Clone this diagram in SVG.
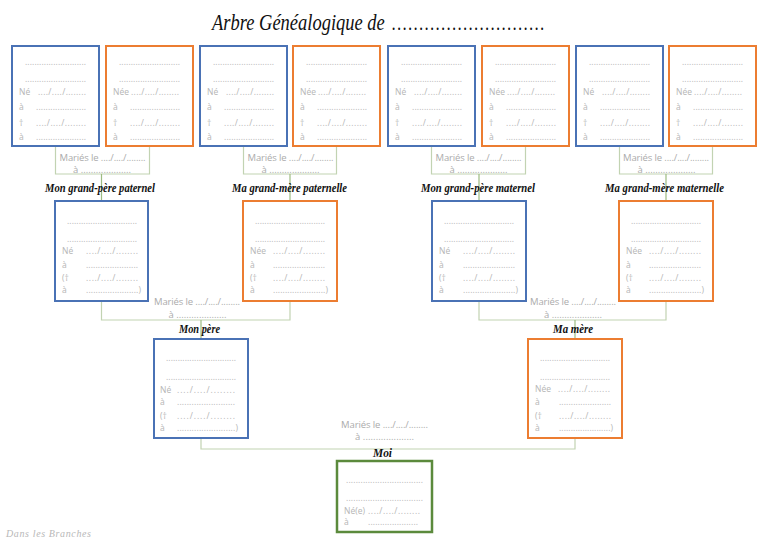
<svg xmlns="http://www.w3.org/2000/svg" width="768" height="544" viewBox="0 0 768 544">
<style>
.bx{fill:#fff;stroke-width:2}
.bl{stroke:#4a72b5}
.or{stroke:#ec7d31}
.gr{stroke:#5b8a3c;stroke-width:2.5}
.t{font-family:"Open Sans","Liberation Sans",sans-serif;font-size:8.5px;fill:#b5b5b5}
.m{font-family:"Open Sans","Liberation Sans",sans-serif;font-size:9.5px;fill:#ababab}
.c{font-family:"Liberation Serif",serif;font-style:italic;font-weight:bold;font-size:12px;fill:#111}
.k{fill:none;stroke:#c2d3b2;stroke-width:1.2}
.kd{fill:none;stroke:#9dbc82;stroke-width:1.2}
</style>
<rect width="768" height="544" fill="#fff"/>
<g id="title">
<text transform="translate(212,30) scale(1,1.3)" x="0" y="0" style="font-family:'Liberation Serif',serif;font-style:italic;font-size:18.5px;fill:#111">Arbre Généalogique de<tspan x="180" style="font-size:16px;letter-spacing:1.5px">............................</tspan></text>
</g>
<g id="connectors">
<path class="k" d="M55.5 146V174H149.5V146M243.5 146V174H336.5V146M431.5 146V174H525.5V146M619.5 146V174H712.5V146"/>
<path class="kd" d="M101.5 174V201M290 174V201M479 174V201M666 174V201"/>
<path class="k" d="M101.5 301V320H290V301M479 301V320H666V301"/>
<path class="kd" d="M201 320V339M575 320V339"/>
<path class="k" d="M201 438V449H575V438"/>
</g>
<g id="mariages" class="m">
<text x="59.5" y="161" textLength="86">Mariés le ..../..../........</text>
<text x="73" y="173" textLength="58">à  ....................</text>
<text x="247.5" y="161" textLength="86">Mariés le ..../..../........</text>
<text x="261.5" y="173" textLength="58">à  ....................</text>
<text x="435.5" y="161" textLength="86">Mariés le ..../..../........</text>
<text x="449.5" y="173" textLength="58">à  ....................</text>
<text x="623" y="161" textLength="86">Mariés le ..../..../........</text>
<text x="637.5" y="173" textLength="58">à  ....................</text>
<text x="154" y="305" textLength="86">Mariés le ..../..../........</text>
<text x="168.5" y="318" textLength="58">à  ....................</text>
<text x="530" y="305" textLength="86">Mariés le ..../..../........</text>
<text x="544" y="318" textLength="58">à  ....................</text>
<text x="341" y="428" textLength="87">Mariés le ..../..../........</text>
<text x="355" y="440" textLength="59">à  ....................</text>
</g>
<g id="arriere1" transform="translate(12,46)"><rect class="bx bl" width="87" height="100"/>
<text class="t" x="13" y="19" textLength="61">..........................</text><text class="t" x="13" y="36" textLength="61">..........................</text>
<text class="t" x="7" y="49">Né</text><text class="t" x="26" y="49" textLength="48">..../..../........</text>
<text class="t" x="7" y="64">à</text><text class="t" x="24" y="64" textLength="50">.....................</text>
<text class="t" x="7" y="80">†</text><text class="t" x="24" y="80" textLength="50">..../..../........</text>
<text class="t" x="7" y="94">à</text><text class="t" x="24" y="94" textLength="50">.....................</text></g>
<g id="arriere2" transform="translate(106,46)"><rect class="bx or" width="87" height="100"/>
<text class="t" x="13" y="19" textLength="61">..........................</text><text class="t" x="13" y="36" textLength="61">..........................</text>
<text class="t" x="7" y="49">Née</text><text class="t" x="25" y="49" textLength="48">..../..../........</text>
<text class="t" x="7" y="64">à</text><text class="t" x="24" y="64" textLength="50">.....................</text>
<text class="t" x="7" y="80">†</text><text class="t" x="24" y="80" textLength="50">..../..../........</text>
<text class="t" x="7" y="94">à</text><text class="t" x="24" y="94" textLength="50">.....................</text></g>
<g id="arriere3" transform="translate(200,46)"><rect class="bx bl" width="87" height="100"/>
<text class="t" x="13" y="19" textLength="61">..........................</text><text class="t" x="13" y="36" textLength="61">..........................</text>
<text class="t" x="7" y="49">Né</text><text class="t" x="26" y="49" textLength="48">..../..../........</text>
<text class="t" x="7" y="64">à</text><text class="t" x="24" y="64" textLength="50">.....................</text>
<text class="t" x="7" y="80">†</text><text class="t" x="24" y="80" textLength="50">..../..../........</text>
<text class="t" x="7" y="94">à</text><text class="t" x="24" y="94" textLength="50">.....................</text></g>
<g id="arriere4" transform="translate(293,46)"><rect class="bx or" width="87" height="100"/>
<text class="t" x="13" y="19" textLength="61">..........................</text><text class="t" x="13" y="36" textLength="61">..........................</text>
<text class="t" x="7" y="49">Née</text><text class="t" x="25" y="49" textLength="48">..../..../........</text>
<text class="t" x="7" y="64">à</text><text class="t" x="24" y="64" textLength="50">.....................</text>
<text class="t" x="7" y="80">†</text><text class="t" x="24" y="80" textLength="50">..../..../........</text>
<text class="t" x="7" y="94">à</text><text class="t" x="24" y="94" textLength="50">.....................</text></g>
<g id="arriere5" transform="translate(388,46)"><rect class="bx bl" width="87" height="100"/>
<text class="t" x="13" y="19" textLength="61">..........................</text><text class="t" x="13" y="36" textLength="61">..........................</text>
<text class="t" x="7" y="49">Né</text><text class="t" x="26" y="49" textLength="48">..../..../........</text>
<text class="t" x="7" y="64">à</text><text class="t" x="24" y="64" textLength="50">.....................</text>
<text class="t" x="7" y="80">†</text><text class="t" x="24" y="80" textLength="50">..../..../........</text>
<text class="t" x="7" y="94">à</text><text class="t" x="24" y="94" textLength="50">.....................</text></g>
<g id="arriere6" transform="translate(482,46)"><rect class="bx or" width="87" height="100"/>
<text class="t" x="13" y="19" textLength="61">..........................</text><text class="t" x="13" y="36" textLength="61">..........................</text>
<text class="t" x="7" y="49">Née</text><text class="t" x="25" y="49" textLength="48">..../..../........</text>
<text class="t" x="7" y="64">à</text><text class="t" x="24" y="64" textLength="50">.....................</text>
<text class="t" x="7" y="80">†</text><text class="t" x="24" y="80" textLength="50">..../..../........</text>
<text class="t" x="7" y="94">à</text><text class="t" x="24" y="94" textLength="50">.....................</text></g>
<g id="arriere7" transform="translate(576,46)"><rect class="bx bl" width="87" height="100"/>
<text class="t" x="13" y="19" textLength="61">..........................</text><text class="t" x="13" y="36" textLength="61">..........................</text>
<text class="t" x="7" y="49">Né</text><text class="t" x="26" y="49" textLength="48">..../..../........</text>
<text class="t" x="7" y="64">à</text><text class="t" x="24" y="64" textLength="50">.....................</text>
<text class="t" x="7" y="80">†</text><text class="t" x="24" y="80" textLength="50">..../..../........</text>
<text class="t" x="7" y="94">à</text><text class="t" x="24" y="94" textLength="50">.....................</text></g>
<g id="arriere8" transform="translate(669,46)"><rect class="bx or" width="87" height="100"/>
<text class="t" x="13" y="19" textLength="61">..........................</text><text class="t" x="13" y="36" textLength="61">..........................</text>
<text class="t" x="7" y="49">Née</text><text class="t" x="25" y="49" textLength="48">..../..../........</text>
<text class="t" x="7" y="64">à</text><text class="t" x="24" y="64" textLength="50">.....................</text>
<text class="t" x="7" y="80">†</text><text class="t" x="24" y="80" textLength="50">..../..../........</text>
<text class="t" x="7" y="94">à</text><text class="t" x="24" y="94" textLength="50">.....................</text></g>
<g id="gp-paternel">
<text class="c" x="45" y="192" textLength="110" lengthAdjust="spacingAndGlyphs">Mon grand-père paternel</text>
<g transform="translate(55,201)"><rect class="bx bl" width="93" height="100"/>
<text class="t" x="12" y="23" textLength="70">..............................</text><text class="t" x="12" y="41" textLength="70">..............................</text>
<text class="t" x="7" y="53">Né</text><text class="t" x="31" y="53" textLength="52">..../..../........</text>
<text class="t" x="7" y="67">à</text><text class="t" x="31" y="67" textLength="52">......................</text>
<text class="t" x="7" y="80">(†</text><text class="t" x="31" y="80" textLength="52">..../..../........</text>
<text class="t" x="7" y="92">à</text><text class="t" x="31" y="92" textLength="55">......................)</text></g></g>
<g id="gm-paternelle">
<text class="c" x="232" y="192" textLength="115" lengthAdjust="spacingAndGlyphs">Ma grand-mère paternelle</text>
<g transform="translate(243,201)"><rect class="bx or" width="94" height="100"/>
<text class="t" x="12" y="23" textLength="70">..............................</text><text class="t" x="12" y="41" textLength="70">..............................</text>
<text class="t" x="7" y="53">Née</text><text class="t" x="30" y="53" textLength="52">..../..../........</text>
<text class="t" x="7" y="67">à</text><text class="t" x="30" y="67" textLength="52">......................</text>
<text class="t" x="7" y="80">(†</text><text class="t" x="30" y="80" textLength="52">..../..../........</text>
<text class="t" x="7" y="92">à</text><text class="t" x="30" y="92" textLength="55">......................)</text></g></g>
<g id="gp-maternel">
<text class="c" x="421" y="192" textLength="114" lengthAdjust="spacingAndGlyphs">Mon grand-père maternel</text>
<g transform="translate(432,201)"><rect class="bx bl" width="94" height="100"/>
<text class="t" x="12" y="23" textLength="70">..............................</text><text class="t" x="12" y="41" textLength="70">..............................</text>
<text class="t" x="7" y="53">Né</text><text class="t" x="31" y="53" textLength="52">..../..../........</text>
<text class="t" x="7" y="67">à</text><text class="t" x="31" y="67" textLength="52">......................</text>
<text class="t" x="7" y="80">(†</text><text class="t" x="31" y="80" textLength="52">..../..../........</text>
<text class="t" x="7" y="92">à</text><text class="t" x="31" y="92" textLength="55">......................)</text></g></g>
<g id="gm-maternelle">
<text class="c" x="605" y="192" textLength="119" lengthAdjust="spacingAndGlyphs">Ma grand-mère maternelle</text>
<g transform="translate(619,201)"><rect class="bx or" width="94" height="100"/>
<text class="t" x="12" y="23" textLength="70">..............................</text><text class="t" x="12" y="41" textLength="70">..............................</text>
<text class="t" x="7" y="53">Née</text><text class="t" x="30" y="53" textLength="52">..../..../........</text>
<text class="t" x="7" y="67">à</text><text class="t" x="30" y="67" textLength="52">......................</text>
<text class="t" x="7" y="80">(†</text><text class="t" x="30" y="80" textLength="52">..../..../........</text>
<text class="t" x="7" y="92">à</text><text class="t" x="30" y="92" textLength="55">......................)</text></g></g>
<g id="pere">
<text class="c" x="179" y="333" textLength="41" lengthAdjust="spacingAndGlyphs">Mon père</text>
<g transform="translate(154,339)"><rect class="bx bl" width="94" height="99"/>
<text class="t" x="12" y="22" textLength="70">..............................</text><text class="t" x="12" y="40.5" textLength="70">..............................</text>
<text class="t" x="6" y="54">Né</text><text class="t" x="23" y="54" textLength="58">..../..../........</text>
<text class="t" x="6" y="66">à</text><text class="t" x="23" y="66" textLength="58">........................</text>
<text class="t" x="6" y="79.5">(†</text><text class="t" x="23" y="79.5" textLength="58">..../..../........</text>
<text class="t" x="6" y="91.5">à</text><text class="t" x="23" y="91.5" textLength="61">........................)</text></g></g>
<g id="mere">
<text class="c" x="553" y="333" textLength="40" lengthAdjust="spacingAndGlyphs">Ma mère</text>
<g transform="translate(528,339)"><rect class="bx or" width="94" height="99"/>
<text class="t" x="12" y="22" textLength="70">..............................</text><text class="t" x="12" y="40.5" textLength="70">..............................</text>
<text class="t" x="7" y="53">Née</text><text class="t" x="30" y="53" textLength="52">..../..../........</text>
<text class="t" x="7" y="66">à</text><text class="t" x="31" y="66" textLength="52">......................</text>
<text class="t" x="7" y="79.5">(†</text><text class="t" x="31" y="79.5" textLength="52">..../..../........</text>
<text class="t" x="7" y="91.5">à</text><text class="t" x="31" y="91.5" textLength="54">......................)</text></g></g>
<g id="moi">
<text class="c" x="373" y="457" textLength="19" lengthAdjust="spacingAndGlyphs">Moi</text>
<g transform="translate(337,461)"><rect class="bx gr" width="95" height="71"/>
<text class="t" x="9" y="22" textLength="77">................................</text><text class="t" x="9" y="40" textLength="77">................................</text>
<text class="t" x="7" y="53">Né(e)</text><text class="t" x="31" y="53" textLength="52">..../..../........</text>
<text class="t" x="7" y="64">à</text><text class="t" x="31" y="64" textLength="50">.....................</text></g></g>
<text x="6" y="537" style="font-family:'Liberation Serif',serif;font-style:italic;font-size:10px;fill:#b8b8b8" textLength="85">Dans les Branches</text>
</svg>
